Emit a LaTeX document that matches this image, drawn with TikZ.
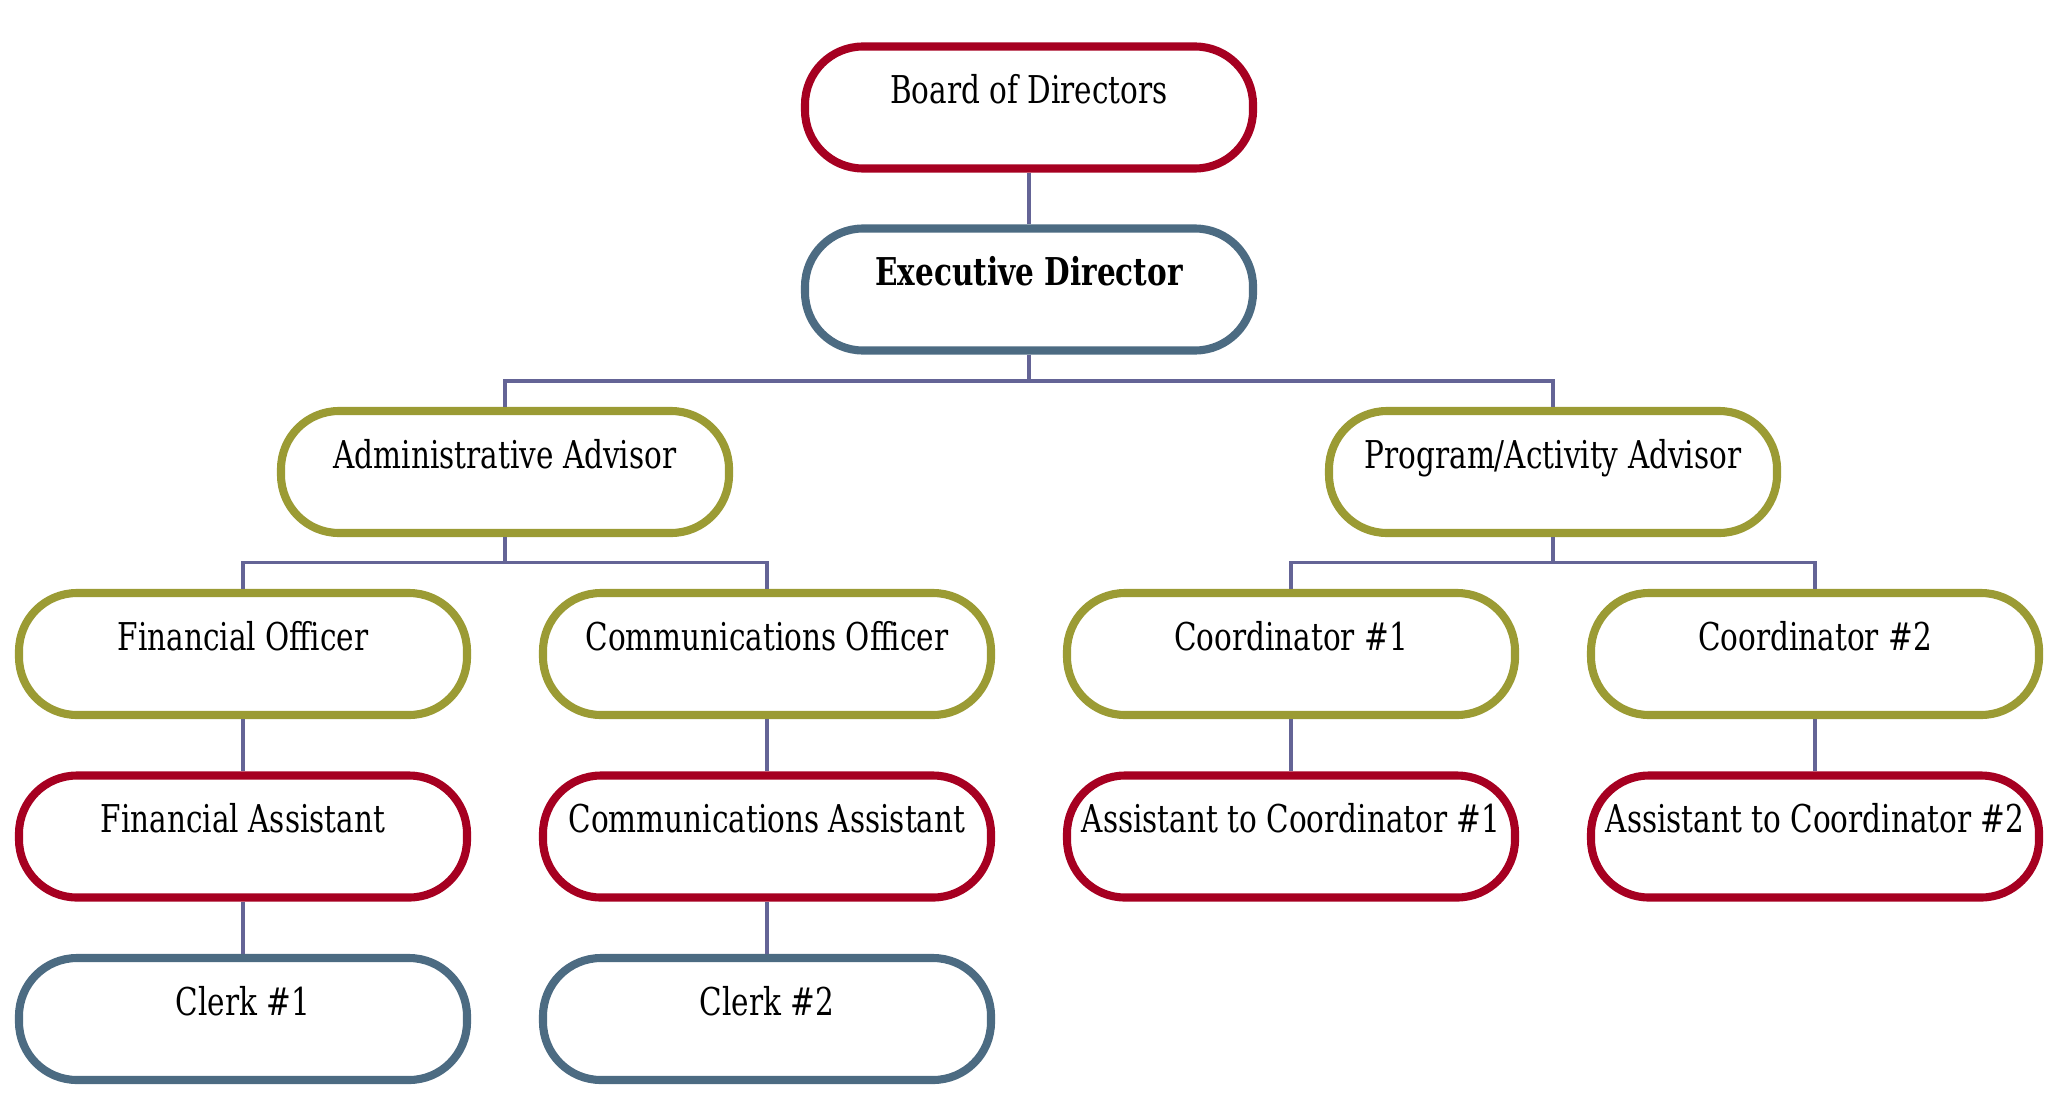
\documentclass[tikz,border=0pt]{standalone}
\usepackage{fontspec}
\setmainfont{DejaVu Serif}[FakeStretch=0.77]
\usetikzlibrary{positioning}

\definecolor{boxred}{RGB}{166,0,33}
\definecolor{boxblue}{RGB}{76,107,130}
\definecolor{boxolive}{RGB}{155,155,52}
\definecolor{linkcol}{RGB}{100,100,150}

\tikzset{
  orgbox/.style={draw, line width=2.3pt, rounded corners=0.58cm, fill=white,
    text=black, minimum width=4.48cm, minimum height=1.22cm, inner sep=0pt,
    text height=0.33cm, text depth=0.41cm,
    font=\fontsize{10.9}{13}\selectfont},
  redbox/.style={orgbox, draw=boxred},
  bluebox/.style={orgbox, draw=boxblue},
  olivebox/.style={orgbox, draw=boxolive},
  link/.style={draw=linkcol, line width=1pt}
}

\begin{document}
\begin{tikzpicture}
  \useasboundingbox (0,0) rectangle (20.65,-11);
  % boxes
  \node[redbox] (board) at (10.29,-1.075) {Board of Directors};
  \node[bluebox] (exec) at (10.29,-2.895) {\bfseries Executive Director};
  \node[olivebox] (admin) at (5.05,-4.72) {Administrative Advisor};
  \node[olivebox] (prog) at (15.53,-4.72) {Program/Activity Advisor};
  \node[olivebox] (finoff) at (2.43,-6.54) {Financial Officer};
  \node[olivebox] (comoff) at (7.67,-6.54) {Communications Officer};
  \node[olivebox] (coord1) at (12.91,-6.54) {Coordinator \#1};
  \node[olivebox] (coord2) at (18.15,-6.54) {Coordinator \#2};
  \node[redbox] (finass) at (2.43,-8.365) {Financial Assistant};
  \node[redbox] (comass) at (7.67,-8.365) {Communications Assistant};
  \node[redbox] (ass1) at (12.91,-8.365) {Assistant to Coordinator \#1};
  \node[redbox] (ass2) at (18.15,-8.365) {Assistant to Coordinator \#2};
  \node[bluebox] (clerk1) at (2.43,-10.19) {Clerk \#1};
  \node[bluebox] (clerk2) at (7.67,-10.19) {Clerk \#2};
  % bus points
  \coordinate (busexec) at (10.29,-3.81);
  \coordinate (busadmin) at (5.05,-5.625);
  \coordinate (busprog) at (15.53,-5.625);
  % connectors
  \draw[link] (board.south) -- (exec.north);
  \draw[link] (exec.south) -- (busexec);
  \draw[link] (busexec) -| (admin.north);
  \draw[link] (busexec) -| (prog.north);
  \draw[link] (admin.south) -- (busadmin);
  \draw[link] (busadmin) -| (finoff.north);
  \draw[link] (busadmin) -| (comoff.north);
  \draw[link] (prog.south) -- (busprog);
  \draw[link] (busprog) -| (coord1.north);
  \draw[link] (busprog) -| (coord2.north);
  \draw[link] (finoff.south) -- (finass.north);
  \draw[link] (comoff.south) -- (comass.north);
  \draw[link] (coord1.south) -- (ass1.north);
  \draw[link] (coord2.south) -- (ass2.north);
  \draw[link] (finass.south) -- (clerk1.north);
  \draw[link] (comass.south) -- (clerk2.north);
\end{tikzpicture}
\end{document}
